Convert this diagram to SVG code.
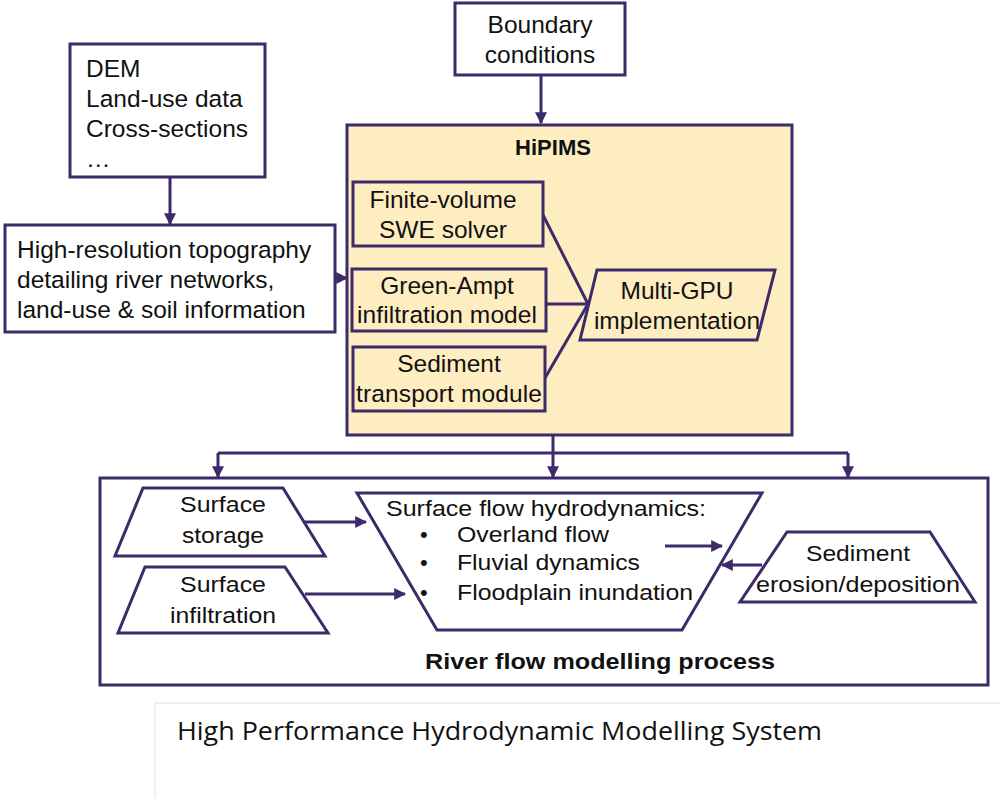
<svg xmlns="http://www.w3.org/2000/svg" width="1000" height="798" viewBox="0 0 1000 798">
<defs>
<marker id="ah" viewBox="0 0 10 10" refX="9" refY="5" markerWidth="4" markerHeight="4" orient="auto"><path d="M0,0 L10,5 L0,10 z" fill="#3d2a68"/></marker>
<style>
.b{fill:#fff;stroke:#3d2a68;stroke-width:3}
.y{fill:#fdedc0;stroke:#3d2a68;stroke-width:3}
.t{font-family:"Liberation Sans",Arial,sans-serif;font-size:22px;fill:#111}
.m{font-size:24.5px}
.c{text-anchor:middle}
.l{stroke:#3d2a68;stroke-width:3;fill:none}
.a{stroke:#3d2a68;stroke-width:3;fill:none;marker-end:url(#ah)}
</style>
</defs>
<rect width="1000" height="798" fill="#fff"/>
<g id="boundary"><rect class="b" x="455" y="3" width="170" height="72"/><text class="t m c" x="540" y="33">Boundary</text><text class="t m c" x="540" y="63">conditions</text></g>
<g id="dem"><rect class="b" x="70" y="44" width="195" height="133"/><text class="t m" x="86" y="77">DEM</text><text class="t m" x="86" y="107">Land-use data</text><text class="t m" x="86" y="137">Cross-sections</text><text class="t m" x="86" y="167">…</text></g>
<g id="topo"><rect class="b" x="5" y="225" width="330" height="107"/><text class="t m" x="17" y="258">High-resolution topography</text><text class="t m" x="17" y="288">detailing river networks,</text><text class="t m" x="17" y="318">land-use &amp; soil information</text></g>
<g id="hipims"><rect class="y" x="347" y="125" width="445" height="310"/><text class="t c" x="553" y="155" font-weight="bold" font-size="20">HiPIMS</text></g>
<g id="fv"><rect class="y" x="353" y="182" width="190" height="64"/><text class="t m c" x="443" y="208">Finite-volume</text><text class="t m c" x="443" y="238">SWE solver</text></g>
<g id="ga"><rect class="y" x="352" y="269" width="194" height="62"/><text class="t m c" x="447" y="294">Green-Ampt</text><text class="t m c" x="447" y="323" textLength="180" lengthAdjust="spacing">infiltration model</text></g>
<g id="sed"><rect class="y" x="353" y="347" width="192" height="64"/><text class="t m c" x="449" y="372">Sediment</text><text class="t m c" x="449" y="402" textLength="186" lengthAdjust="spacing">transport module</text></g>
<g id="gpu"><polygon class="y" points="597,270 775,270 757,340 580,340"/><text class="t m c" x="677" y="299">Multi-GPU</text><text class="t m c" x="677" y="329">implementation</text></g>
<g id="river"><rect class="b" x="100" y="478" width="888" height="207"/><text class="t c" x="600" y="669" font-weight="bold" font-size="21" textLength="350" lengthAdjust="spacingAndGlyphs">River flow modelling process</text></g>
<g id="storage"><polygon class="b" points="143,488 283,488 325,556 115,556"/><text class="t c" x="223" y="512" textLength="86" lengthAdjust="spacingAndGlyphs">Surface</text><text class="t c" x="223" y="543" textLength="82" lengthAdjust="spacingAndGlyphs">storage</text></g>
<g id="infil"><polygon class="b" points="145,567 285,567 328,633 118,633"/><text class="t c" x="223" y="592" textLength="86" lengthAdjust="spacingAndGlyphs">Surface</text><text class="t c" x="223" y="623" textLength="106" lengthAdjust="spacingAndGlyphs">infiltration</text></g>
<g id="surface"><polygon class="b" points="357,493 762,493 682,630 437,630"/><text class="t" x="386" y="516" textLength="320" lengthAdjust="spacingAndGlyphs">Surface flow hydrodynamics:</text>
<text class="t" x="420" y="542">•</text><text class="t" x="457" y="542" textLength="152" lengthAdjust="spacingAndGlyphs">Overland flow</text>
<text class="t" x="420" y="570">•</text><text class="t" x="457" y="570" textLength="183" lengthAdjust="spacingAndGlyphs">Fluvial dynamics</text>
<text class="t" x="420" y="600">•</text><text class="t" x="457" y="600" textLength="236" lengthAdjust="spacingAndGlyphs">Floodplain inundation</text></g>
<g id="erosion"><polygon class="b" points="787,532 930,532 975,602 740,602"/><text class="t c" x="858" y="561" textLength="104" lengthAdjust="spacingAndGlyphs">Sediment</text><text class="t c" x="858" y="592" textLength="204" lengthAdjust="spacingAndGlyphs">erosion/deposition</text></g>
<g id="caption"><rect x="155" y="703" width="850" height="100" fill="#fff" stroke="#e4e4e4" stroke-width="1"/><text x="177" y="740" font-family="'Open Sans',sans-serif" font-size="26" fill="#111" textLength="645" lengthAdjust="spacingAndGlyphs">High Performance Hydrodynamic Modelling System</text></g>
<g id="connectors">
<line class="a" x1="541" y1="75" x2="541" y2="123"/>
<line class="a" x1="170" y1="177" x2="170" y2="224"/>
<line class="a" x1="335" y1="278" x2="347" y2="278"/>
<polyline class="l" points="543,215 588,304 545,378"/>
<line class="l" x1="546" y1="304" x2="588" y2="304"/>
<line class="l" x1="553" y1="435" x2="553" y2="453"/>
<line class="l" x1="218" y1="453" x2="848" y2="453"/>
<line class="a" x1="218" y1="453" x2="218" y2="477"/>
<line class="a" x1="553" y1="453" x2="553" y2="477"/>
<line class="a" x1="848" y1="453" x2="848" y2="477"/>
<line class="a" x1="305" y1="522" x2="366" y2="522"/>
<line class="a" x1="305" y1="594" x2="405" y2="594"/>
<line class="a" x1="665" y1="546" x2="722" y2="546"/>
<line class="a" x1="762" y1="565" x2="722" y2="565"/>
</g>
</svg>
